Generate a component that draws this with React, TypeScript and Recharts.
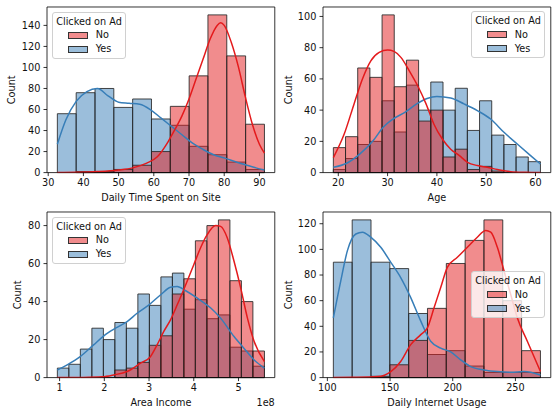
import { ComposedChart, XAxis, YAxis, Line, ReferenceArea, Legend } from "recharts"

const RED = "#e41a1c"
const BLUE = "#377eb8"
const EDGE = "#262626"
const FONT = "DejaVu Sans"
const FS = 9.7
const HUES = ["No", "Yes"]
const LEGEND_TITLE = "Clicked on Ad"

// Daily Time Spent on Site
const siteEdges = [32.6, 37.95, 43.3, 48.64, 53.99, 59.34, 64.69, 70.04, 75.38, 80.73, 86.08, 91.43]
const siteNo = [0, 1, 1, 3, 7, 20, 63, 92, 150, 111, 46]
const siteYes = [56, 76, 80, 62, 70, 51, 45, 25, 17, 10, 3]
const siteNoKdeX = [32.6, 38, 44, 50, 54, 58, 61, 64, 66, 68, 70, 72, 74, 76, 78, 79, 80, 82, 84, 86, 88, 90, 91.43]
const siteNoKdeY = [0.1, 0.3, 1, 2.5, 4.5, 9, 15, 29, 41, 54, 70, 89, 108, 127, 140, 142.5, 140, 124, 101, 72, 46, 27, 18.5]
const siteYesKdeX = [32.6, 35, 38, 41, 44, 47, 50, 53, 56, 59, 62, 65, 68, 71, 74, 77, 80, 83, 86, 89, 91.43]
const siteYesKdeY = [27, 50, 68, 77, 80, 73, 67, 66, 65, 60, 52, 44, 36, 28, 22, 17, 14, 10.5, 7.5, 4.5, 2.5]

// Age
const ageEdges = [19, 21.47, 23.94, 26.41, 28.88, 31.35, 33.82, 36.29, 38.76, 41.24, 43.71, 46.18, 48.65, 51.12, 53.59, 56.06, 58.53, 61]
const ageNo = [16, 23, 67, 61, 101, 55, 72, 33, 40, 10, 15, 2, 4, 1, 0, 0, 0]
const ageYes = [2, 9, 18, 20, 46, 26, 56, 40, 58, 40, 54, 27, 46, 24, 18, 10, 7]
const ageNoKdeX = [19, 21.2, 23.2, 24.9, 26.6, 28.3, 30, 31.3, 32.7, 34.4, 36.1, 37.8, 39.4, 41.1, 42.8, 44.5, 46.2, 48.2, 50.2, 52.3, 55, 58, 61]
const ageNoKdeY = [9.6, 24.7, 44, 60, 71.6, 77, 78.5, 77.6, 73.8, 65.2, 55.6, 44, 31, 21.5, 15, 11, 6.6, 4.5, 3.4, 2, 0.6, 0.2, 0]
const ageYesKdeX = [19, 21.7, 24.4, 27.1, 29.1, 31.1, 33.5, 35.9, 38, 40, 42.8, 45.5, 48.2, 50.9, 53.6, 56.3, 59, 61]
const ageYesKdeY = [3.4, 6, 12, 20.5, 29, 34.3, 38.6, 44, 47.5, 48.8, 47.8, 44, 39.7, 34.3, 25.8, 18.3, 10.9, 5.5]

// Area Income (x 1e8)
const incomeEdges = [0.95, 1.207, 1.464, 1.722, 1.979, 2.236, 2.493, 2.75, 3.008, 3.265, 3.522, 3.779, 4.036, 4.294, 4.551, 4.808, 5.065, 5.322, 5.58]
const incomeNo = [0, 0, 0, 0, 0, 4, 5, 8, 17, 22, 44, 52, 72, 80, 83, 51, 40, 14]
const incomeYes = [5, 7, 15, 26, 20, 29, 26, 44, 38, 53, 55, 36, 41, 31, 33, 16, 14, 6]
const incomeNoKdeX = [0.95, 1.5, 1.95, 2.21, 2.51, 2.81, 3.03, 3.18, 3.33, 3.48, 3.63, 3.82, 4.0, 4.15, 4.3, 4.49, 4.6, 4.75, 4.9, 5.05, 5.2, 5.35, 5.58]
const incomeNoKdeY = [0, 0.1, 0.4, 1.4, 3.2, 7.6, 11, 17.2, 24.3, 30.4, 38.3, 48.9, 59.4, 68.2, 75.2, 80, 79.6, 73.5, 61.2, 47.1, 31.3, 19, 8.4]
const incomeYesKdeX = [0.95, 1.17, 1.46, 1.76, 1.99, 2.25, 2.51, 2.74, 3.0, 3.26, 3.48, 3.63, 3.82, 4.08, 4.38, 4.6, 4.9, 5.12, 5.35, 5.58]
const incomeYesKdeY = [4, 6.7, 11, 17.2, 22, 26, 29.5, 34, 38.3, 43.6, 47.5, 48, 45.7, 41.8, 36.6, 31.3, 21.6, 15.5, 9.3, 5]

// Daily Internet Usage
const netEdges = [104.78, 119.8, 134.81, 149.83, 164.84, 179.86, 194.88, 209.89, 224.91, 239.92, 254.94, 269.96]
const netNo = [0, 0, 1, 10, 29, 54, 89, 107, 123, 60, 21]
const netYes = [90, 123, 90, 85, 50, 18, 21, 9, 4, 4, 4]
const netNoKdeX = [104.78, 120, 140, 150.6, 158.5, 166.5, 174.5, 179.8, 185.1, 190.4, 195.7, 203.7, 211.7, 219.6, 226.3, 230.3, 235.6, 240.9, 246.2, 251.5, 259.5, 269.96]
const netNoKdeY = [0, 0.2, 0.8, 4.7, 12.6, 25.7, 33.5, 38.8, 54.5, 70.2, 86, 93.8, 101.6, 109.5, 114.7, 113.4, 101.6, 83.3, 65, 46.6, 28.3, 4.7]
const netYesKdeX = [104.78, 110.7, 116, 122.7, 128, 134.6, 142.6, 150.6, 158.5, 166.5, 174.5, 182.4, 190.4, 198.4, 206.3, 214.3, 225, 235.6, 246.2, 256.9, 269.96]
const netYesKdeY = [46.6, 75.5, 99, 112, 113.4, 109.5, 101.6, 89.9, 78, 62.4, 44, 28.3, 23, 20, 13.9, 8.6, 6, 4.7, 4.2, 4.7, 2]

const pts = (xs: number[], ys: number[]) => xs.map((x, i) => ({ x, y: ys[i] }))

const PW = 227.8
const PH = 165.6
const ML = 45
const MT = 6
const MR = 6
const XH = 40

const panels = [
  {
    left: 46.6, top: 6.6, xlabel: "Daily Time Spent on Site", edges: siteEdges, no: siteNo, yes: siteYes,
    noKde: pts(siteNoKdeX, siteNoKdeY), yesKde: pts(siteYesKdeX, siteYesKdeY),
    xDomain: [29.66, 94.37], yMax: 157.5, xTicks: [30, 40, 50, 60, 70, 80, 90], yTicks: [0, 20, 40, 60, 80, 100, 120, 140],
    ylabelOff: 32, legend: { x: 5.6, y: 5 },
  },
  {
    left: 322.6, top: 6.6, xlabel: "Age", edges: ageEdges, no: ageNo, yes: ageYes,
    noKde: pts(ageNoKdeX, ageNoKdeY), yesKde: pts(ageYesKdeX, ageYesKdeY),
    xDomain: [16.9, 63.1], yMax: 106.05, xTicks: [20, 30, 40, 50, 60], yTicks: [0, 20, 40, 60, 80, 100],
    ylabelOff: 31.5, legend: { x: PW - 5.5 - 73.7, y: 4.5 },
  },
  {
    left: 46.6, top: 212, xlabel: "Area Income", edges: incomeEdges, no: incomeNo, yes: incomeYes,
    noKde: pts(incomeNoKdeX, incomeNoKdeY), yesKde: pts(incomeYesKdeX, incomeYesKdeY),
    xDomain: [0.7185, 5.8115], yMax: 87.15, xTicks: [1, 2, 3, 4, 5], yTicks: [0, 20, 40, 60, 80],
    ylabelOff: 26.5, legend: { x: 5.6, y: 4.7 }, offsetText: "1e8",
  },
  {
    left: 322.6, top: 212, xlabel: "Daily Internet Usage", edges: netEdges, no: netNo, yes: netYes,
    noKde: pts(netNoKdeX, netNoKdeY), yesKde: pts(netYesKdeX, netYesKdeY),
    xDomain: [96.52, 278.22], yMax: 129.15, xTicks: [100, 150, 200, 250], yTicks: [0, 20, 40, 60, 80, 100, 120],
    ylabelOff: 31.5, legend: { x: PW - 5.5 - 73.7, y: PH / 2 - 23.5 },
  },
]

const tickStyle = { fontSize: FS, fill: "#111", fontFamily: FONT }

function LegendBox() {
  return (
    <div style={{
      width: 73.7, height: 47, boxSizing: "border-box", border: "1px solid #d0d0d0", borderRadius: 3,
      background: "rgba(255,255,255,0.8)", fontFamily: FONT, fontSize: FS, color: "#111", position: "relative",
    }}>
      <div style={{ position: "absolute", left: 0, width: "100%", top: 3, textAlign: "center", lineHeight: "12px" }}>{LEGEND_TITLE}</div>
      {HUES.map((h, i) => (
        <div key={h}>
          <div style={{
            position: "absolute", left: 14.4, top: 19 + i * 14, width: 20.6, height: 7, boxSizing: "border-box",
            background: i === 0 ? "rgba(228,26,28,0.5)" : "rgba(55,126,184,0.5)", border: "1px solid #333",
          }} />
          <div style={{ position: "absolute", left: 42.5, top: 16.5 + i * 14, lineHeight: "12px" }}>{h}</div>
        </div>
      ))}
    </div>
  )
}

function Panel({ p }: { p: any }) {
  const W = ML + PW + MR
  const H = MT + PH + XH
  const bars = (counts: number[], color: string, tag: string) =>
    counts.map((c, i) => (
      <ReferenceArea key={tag + i} x1={p.edges[i]} x2={p.edges[i + 1]} y1={0} y2={c} ifOverflow="visible"
        fill={color} fillOpacity={0.5} stroke={EDGE} strokeOpacity={0.85} strokeWidth={1} />
    ))
  return (
    <div style={{ position: "absolute", left: p.left - ML, top: p.top - MT }}>
      <ComposedChart width={W} height={H} margin={{ top: MT, right: MR, left: 0, bottom: 0 }}>
        <XAxis type="number" dataKey="x" domain={p.xDomain} ticks={p.xTicks} allowDataOverflow height={XH}
          axisLine={false} tickLine={{ stroke: "#000", strokeWidth: 0.8 }} tickSize={3.5} tickMargin={3.2} tick={tickStyle}
          interval={0}
          label={(props: any) => {
            const vb = props.viewBox
            return (
              <g>
                <text x={vb.x + vb.width / 2} y={vb.y + 28} textAnchor="middle" fontSize={FS} fontFamily={FONT} fill="#111">{p.xlabel}</text>
                {p.offsetText && (
                  <text x={vb.x + vb.width} y={vb.y + 28.5} textAnchor="end" fontSize={FS} fontFamily={FONT} fill="#111">{p.offsetText}</text>
                )}
              </g>
            )
          }} />
        <YAxis type="number" domain={[0, p.yMax]} ticks={p.yTicks} allowDataOverflow width={ML}
          axisLine={false} tickLine={{ stroke: "#000", strokeWidth: 0.8 }} tickSize={3.5} tickMargin={3.2} tick={tickStyle}
          interval={0}
          label={(props: any) => {
            const vb = props.viewBox
            const x = vb.x + vb.width - p.ylabelOff
            const y = vb.y + vb.height / 2
            return (
              <text x={x} y={y} transform={`rotate(-90, ${x}, ${y})`} textAnchor="middle" fontSize={FS} fontFamily={FONT} fill="#111">Count</text>
            )
          }} />
        {bars(p.yes, BLUE, "yes")}
        {bars(p.no, RED, "no")}
        <ReferenceArea x1={p.xDomain[0]} x2={p.xDomain[1]} y1={0} y2={p.yMax} ifOverflow="visible"
          fill="none" stroke="#000" strokeWidth={0.8} />
        <Line data={p.yesKde} dataKey="y" type="monotone" stroke={BLUE} strokeWidth={1.5} dot={false} activeDot={false} isAnimationActive={false} />
        <Line data={p.noKde} dataKey="y" type="monotone" stroke={RED} strokeWidth={1.5} dot={false} activeDot={false} isAnimationActive={false} />
        <Legend layout="horizontal" verticalAlign="middle" align="center"
          wrapperStyle={{ left: ML + p.legend.x, top: MT + p.legend.y, width: 74, height: 48, right: "auto", bottom: "auto" }}
          content={() => <LegendBox />} />
      </ComposedChart>
    </div>
  )
}

export default function App() {
  return (
    <div style={{ position: "absolute", left: 0, top: 0, width: 557, height: 415, background: "#fff" }}>
      {panels.map((p, i) => <Panel key={i} p={p} />)}
    </div>
  )
}
